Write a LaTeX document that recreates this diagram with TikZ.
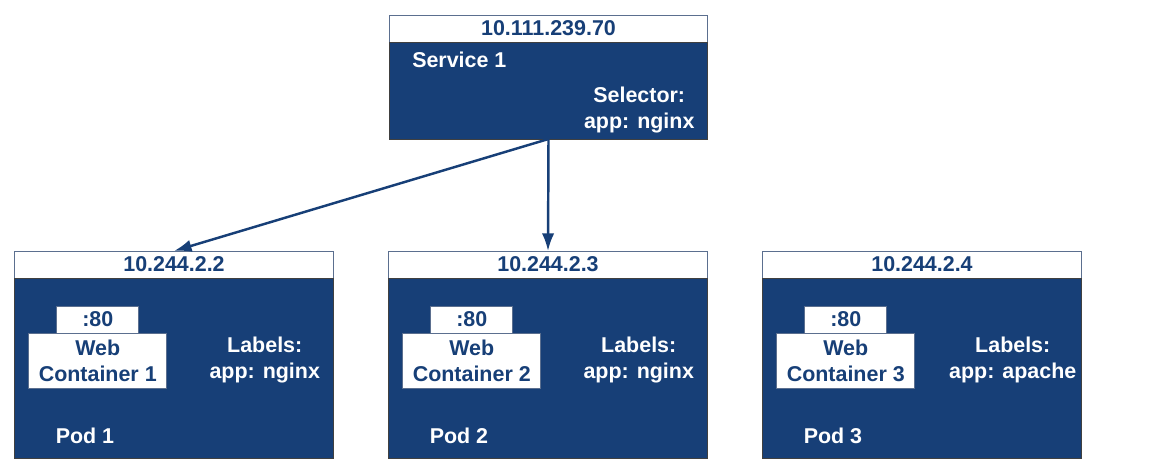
\documentclass[tikz,border=0pt]{standalone}
\usepackage{fontspec}
\setmainfont{Liberation Sans}
\usetikzlibrary{positioning,arrows.meta}
\definecolor{kblue}{HTML}{173F77}
\definecolor{kedge}{HTML}{5B6F8F}

\begin{document}
\begin{tikzpicture}[>={Latex[length=10pt,width=7pt]},
  every node/.style={font=\bfseries\fontsize{12.2}{14.7}\selectfont,outer sep=0pt},
  header/.style={draw=kedge,fill=white,text=kblue,minimum width=6.37cm,minimum height=0.54cm,inner sep=0pt},
  body/.style={draw=black!75,fill=kblue,minimum width=6.37cm,inner sep=0pt},
  port/.style={draw=kedge,fill=white,text=kblue,minimum width=1.64cm,minimum height=0.54cm,inner sep=0pt},
  box/.style={draw=kedge,fill=white,text=kblue,minimum width=2.76cm,minimum height=1.1cm,inner sep=0pt,align=center},
  lbl/.style={text=white,align=center,inner sep=0pt},
  link/.style={->,draw=kblue,line width=1.4pt}]

  \useasboundingbox (0,0) rectangle (23.18,9.46);

  % service
  \node[header,anchor=north] (sh) at (10.97,9.16) {10.111.239.70};
  \node[body,minimum height=1.94cm,below=0pt of sh] (sb) {};
  \node[lbl,anchor=west] (sname) at ([xshift=0.46cm,yshift=-0.36cm]sb.north west) {Service 1};
  \node[lbl] (ssel) at ([xshift=5.0cm,yshift=-1.36cm]sb.north west) {Selector:\\app: nginx};

  % pods
  \node[header,anchor=north] (p1h) at (3.48,4.44) {10.244.2.2};
  \node[header,right=1.11cm of p1h] (p2h) {10.244.2.3};
  \node[header,right=1.11cm of p2h] (p3h) {10.244.2.4};

  \node[body,minimum height=3.6cm,below=0pt of p1h] (p1) {};
  \node[body,minimum height=3.6cm,below=0pt of p2h] (p2) {};
  \node[body,minimum height=3.6cm,below=0pt of p3h] (p3) {};

  \node[box] (c1) at ([xshift=1.66cm,yshift=-1.65cm]p1.north west) {Web\\Container 1};
  \node[box] (c2) at ([xshift=1.66cm,yshift=-1.65cm]p2.north west) {Web\\Container 2};
  \node[box] (c3) at ([xshift=1.66cm,yshift=-1.65cm]p3.north west) {Web\\Container 3};

  \node[port,above=0pt of c1] (port1) {:80};
  \node[port,above=0pt of c2] (port2) {:80};
  \node[port,above=0pt of c3] (port3) {:80};

  \node[lbl] (l1) at ([xshift=5.0cm,yshift=-1.64cm]p1.north west) {Labels:\\app: nginx};
  \node[lbl] (l2) at ([xshift=5.0cm,yshift=-1.64cm]p2.north west) {Labels:\\app: nginx};
  \node[lbl] (l3) at ([xshift=5.0cm,yshift=-1.64cm]p3.north west) {Labels:\\app: apache};

  \node[lbl,anchor=west] (n1) at ([xshift=0.82cm,yshift=-3.16cm]p1.north west) {Pod 1};
  \node[lbl,anchor=west] (n2) at ([xshift=0.82cm,yshift=-3.16cm]p2.north west) {Pod 2};
  \node[lbl,anchor=west] (n3) at ([xshift=0.82cm,yshift=-3.16cm]p3.north west) {Pod 3};

  \path (sb.south) edge[link] (p1h.north);
  \path (sb.south) edge[link] (p2h.north);

\end{tikzpicture}
\end{document}
